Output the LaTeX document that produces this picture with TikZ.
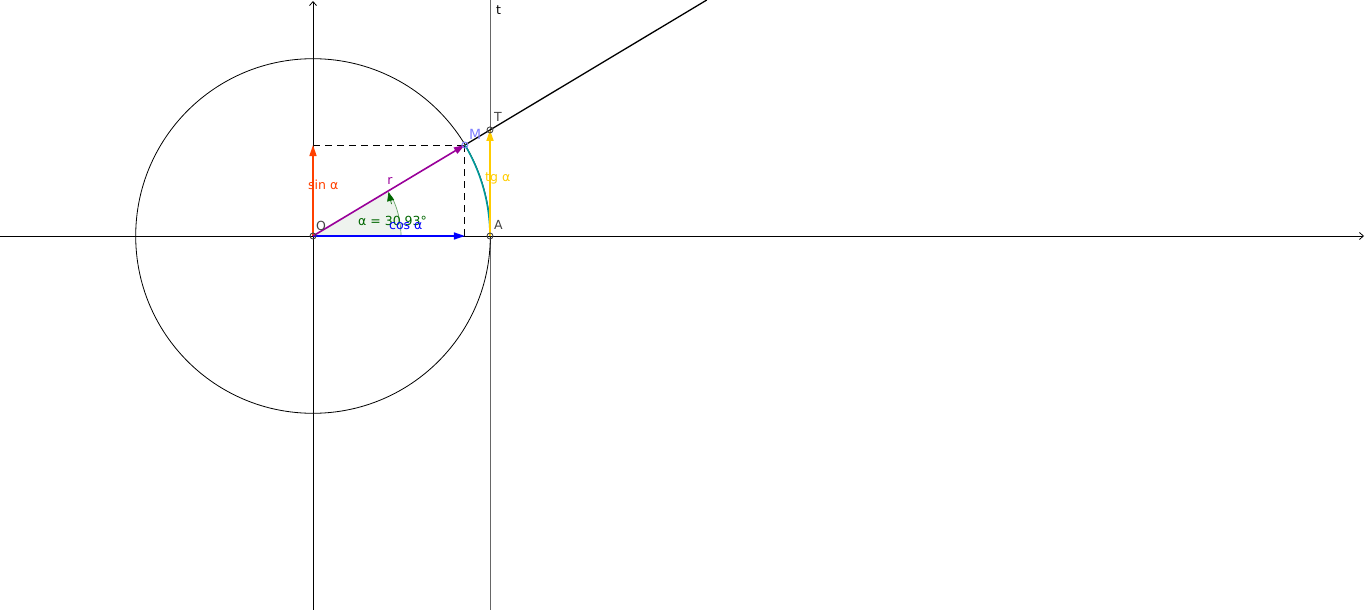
\documentclass[tikz,border=0pt]{standalone}
\usepackage{fontspec}
\setmainfont{DejaVu Sans}
\usetikzlibrary{arrows.meta}
\definecolor{sincol}{HTML}{FF4000}
\definecolor{coscol}{HTML}{0000FF}
\definecolor{rcol}{HTML}{990099}
\definecolor{tgcol}{HTML}{FFCC00}
\definecolor{arccol}{HTML}{009999}
\definecolor{angcol}{HTML}{006600}
\definecolor{mcol}{HTML}{7F7FFF}
\definecolor{ptcol}{HTML}{444444}
\definecolor{sectfill}{HTML}{EEF3EE}
\tikzset{
  axis/.style={black, line width=0.8pt, -{Straight Barb[length=4pt,width=7pt]}},
  vec/.style={line width=1.6pt, -{Triangle[length=11pt,width=7pt]}},
  lbl/.style={font=\fontsize{12.5}{14}\selectfont, inner sep=0pt},
  pt/.style={circle, draw=ptcol, line width=0.9pt, minimum size=6pt, inner sep=0pt},
  dsh/.style={black, line width=0.8pt, dash pattern=on 7pt off 5pt}
}
\begin{document}
\begin{tikzpicture}[x=1pt,y=-1pt]
\useasboundingbox (0,0) rectangle (1366,610);
\coordinate (O) at (313,236);
\coordinate (A) at (490,236);
\coordinate (M) at (464.86,145.04);
\coordinate (T) at (490,129.9);
\coordinate (S) at (313,145.04);
\coordinate (C) at (464.86,236);
\coordinate (Tend) at (706.8,0);
\coordinate (Xl) at (0,236);
\coordinate (Xr) at (1364,236);
\coordinate (Yb) at (313,610);
\coordinate (Yt) at (313,1);
\coordinate (Tb) at (490,610);
\coordinate (Tt) at (490,0);
% sector
\fill[sectfill] (O) -- (401,236) arc[start angle=0,end angle=-30.93,radius=88] -- cycle;
% axes
\draw[axis] (Xl) -- (Xr);
\draw[axis] (Yb) -- (Yt);
\draw[gray!80!black, line width=1pt] (Tb) -- (Tt);
% circle
\draw[black, line width=0.8pt] (O) circle[radius=177.3];
% tangent line part
\draw[black, line width=1.3pt] (M) -- (Tend);
% dashed
\draw[dsh] (S) -- (M);
\draw[dsh] (M) -- (C);
% arc
\draw[arccol, line width=1.6pt] (A) arc[start angle=0,end angle=-30.93,radius=177.3];
% angle arc
\draw[angcol!60!white, line width=0.7pt] (401,236) arc[start angle=0,end angle=-27,radius=88];
% vectors
\draw[vec, sincol] (O) -- (S);
\draw[vec, coscol] (O) -- (C);
\draw[vec, rcol] (O) -- (M);
\draw[vec, tgcol] (A) -- (T);
% angle arrowhead
\draw[angcol, -{Triangle[length=9pt,width=7pt]}, line width=0.7pt] (391.5,204) -- (388.5,192);
% points
\node[pt] (pO) at (O) {};
\node[pt] (pA) at (A) {};
\node[pt] (pT) at (T) {};
\node[pt, draw=mcol] (pM) at (M) {};
% labels
\node[lbl, text=ptcol, anchor=west] (lO) at (316,226) {O};
\node[lbl, text=ptcol, anchor=west] (lA) at (494,225) {A};
\node[lbl, text=ptcol, anchor=west] (lT) at (494,117) {T};
\node[lbl, text=mcol, anchor=west, font=\fontsize{14}{16}\selectfont] (lM) at (469,134) {M};
\node[lbl, text=black, anchor=west] (lt) at (496,10) {t};
\node[lbl, text=rcol] (lr) at (390,181) {r};
\node[lbl, text=sincol, anchor=west] (ls) at (308,185) {sin α};
\node[lbl, text=tgcol, anchor=west] (ltg) at (485,178) {tg α};
\node[lbl, text=angcol, anchor=west] (la) at (358,221) {α = 30.93°};
\node[lbl, text=coscol, anchor=west] (lc) at (389,226) {cos α};
\end{tikzpicture}
\end{document}
